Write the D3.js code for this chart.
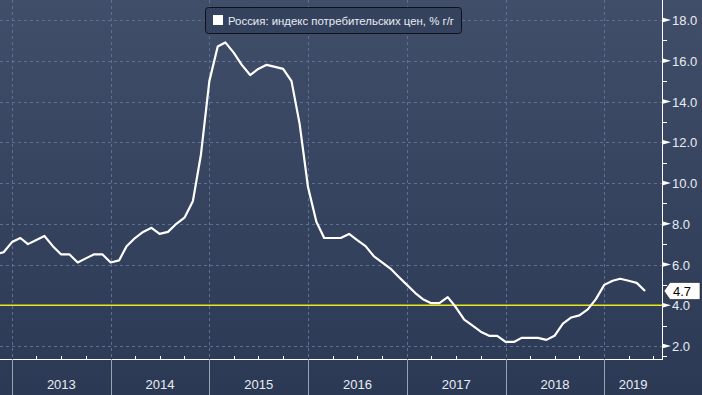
<!DOCTYPE html>
<html><head><meta charset="utf-8">
<script src="https://cdn.jsdelivr.net/npm/d3@7"></script>
<style>html,body{margin:0;padding:0;background:#2c3a56;overflow:hidden}svg{display:block}</style>
</head><body>
<svg id="c" width="702" height="395"></svg>
<script>
// ---- data ----
const startMonth = "2012-11";
const cpi = [
  6.5, 6.6,
  7.1, 7.3, 7.0, 7.2, 7.4, 6.9, 6.5, 6.5, 6.1, 6.3, 6.5, 6.5,
  6.1, 6.2, 6.9, 7.3, 7.6, 7.8, 7.5, 7.6, 8.0, 8.3, 9.1, 11.4,
  15.0, 16.7, 16.9, 16.4, 15.8, 15.3, 15.6, 15.8, 15.7, 15.6, 15.0, 12.9,
  9.8, 8.1, 7.3, 7.3, 7.3, 7.5, 7.2, 6.9, 6.4, 6.1, 5.8, 5.4,
  5.0, 4.6, 4.3, 4.1, 4.1, 4.4, 3.9, 3.3, 3.0, 2.7, 2.5, 2.5,
  2.2, 2.2, 2.4, 2.4, 2.4, 2.3, 2.5, 3.1, 3.4, 3.5, 3.8, 4.3,
  5.0, 5.2, 5.3, 5.2, 5.1, 4.7
];
const years = [2013, 2014, 2015, 2016, 2017, 2018, 2019];
const yTicks = [2, 4, 6, 8, 10, 12, 14, 16, 18];
const yMinor = [1.5, 3, 5, 7, 9, 11, 13, 15, 17];
const targetValue = 4.0;
const legendLabel = "Россия: индекс потребительских цен, % г/г";
const lastLabel = "4.7";

// ---- layout ----
const W = 702, H = 395;
const plotR = 662, plotB = 359;
const svg = d3.select("#c");
const parseM = d3.timeParse("%Y-%m");
const t0 = parseM(startMonth);
const data = cpi.map((v, i) => ({ date: d3.timeMonth.offset(t0, i), value: v }));

const x = d3.scaleTime()
  .domain([new Date(2012, 10, 17, 14), new Date(2019, 7, 2, 14)])
  .range([0, plotR]);
const y = d3.scaleLinear().domain([1.362, 18.982]).range([plotB, 0]);

// background gradient
const defs = svg.append("defs");
const g = defs.append("linearGradient").attr("id", "bg").attr("x1", 0).attr("y1", 0).attr("x2", 0).attr("y2", 1);
g.append("stop").attr("offset", "0%").attr("stop-color", "#414e6a");
g.append("stop").attr("offset", "100%").attr("stop-color", "#2b3955");
svg.append("rect").attr("width", W).attr("height", H).attr("fill", "url(#bg)");
defs.append("clipPath").attr("id", "clip").append("rect").attr("x", 0).attr("y", 0).attr("width", plotR).attr("height", plotB);

// grid
const gridCol = "#5b7190";
svg.append("g").selectAll("line").data(yTicks).join("line")
  .attr("x1", 0).attr("x2", plotR)
  .attr("y1", d => Math.round(y(d)) + 0.5).attr("y2", d => Math.round(y(d)) + 0.5)
  .attr("stroke", gridCol).attr("stroke-width", 1).attr("stroke-dasharray", "3,3");
svg.append("g").selectAll("line").data(years).join("line")
  .attr("x1", d => Math.round(x(new Date(d, 0, 1))) + 0.5).attr("x2", d => Math.round(x(new Date(d, 0, 1))) + 0.5)
  .attr("y1", 0).attr("y2", plotB)
  .attr("stroke", gridCol).attr("stroke-width", 1).attr("stroke-dasharray", "3,3");

// target line
svg.append("line").attr("x1", 0).attr("x2", plotR)
  .attr("y1", y(targetValue)).attr("y2", y(targetValue))
  .attr("stroke", "#e8e81a").attr("stroke-width", 1.6);

// series line
const line = d3.line().x(d => x(d.date)).y(d => y(d.value));
svg.append("path").datum(data).attr("clip-path", "url(#clip)")
  .attr("d", line).attr("fill", "none").attr("stroke", "#ffffff")
  .attr("stroke-width", 2.2).attr("stroke-linejoin", "round");

// axes lines
svg.append("line").attr("x1", 0).attr("x2", plotR + 0.5).attr("y1", plotB + 0.5).attr("y2", plotB + 0.5).attr("stroke", "#fff").attr("stroke-width", 1);
svg.append("line").attr("x1", plotR + 0.5).attr("x2", plotR + 0.5).attr("y1", 0).attr("y2", plotB + 1).attr("stroke", "#fff").attr("stroke-width", 1);

// y ticks: triangles for major, short lines for minor
svg.append("g").selectAll("path").data(yTicks).join("path")
  .attr("d", d => { const yy = y(d); return `M${plotR},${yy - 2.5}L${plotR + 9},${yy}L${plotR},${yy + 2.5}Z`; })
  .attr("fill", "#fff");
svg.append("g").selectAll("line").data(yMinor.filter(v => y(v) > 0 && y(v) < plotB)).join("line")
  .attr("x1", plotR).attr("x2", plotR + 5)
  .attr("y1", d => Math.round(y(d)) + 0.5).attr("y2", d => Math.round(y(d)) + 0.5)
  .attr("stroke", "#fff");
svg.append("g").selectAll("text").data(yTicks).join("text")
  .attr("x", plotR + 10).attr("y", d => y(d) + 5)
  .attr("fill", "#e8ecf2").attr("font-family", "Liberation Sans, Arial, sans-serif").attr("font-size", 13)
  .text(d => d3.format(".1f")(d));

// x axis: quarter ticks, year separators, labels
const quarters = d3.timeMonth.every(3).range(new Date(2012, 11, 1), new Date(2019, 7, 1)).filter(d => d.getMonth() !== 0);
svg.append("g").selectAll("line").data(quarters).join("line")
  .attr("x1", d => Math.round(x(d)) + 0.5).attr("x2", d => Math.round(x(d)) + 0.5)
  .attr("y1", plotB - 3).attr("y2", plotB)
  .attr("stroke", "#fff");
svg.append("g").selectAll("line").data(years).join("line")
  .attr("x1", d => Math.round(x(new Date(d, 0, 1))) + 0.5).attr("x2", d => Math.round(x(new Date(d, 0, 1))) + 0.5)
  .attr("y1", plotB).attr("y2", H)
  .attr("stroke", "#9aa3b3").attr("stroke-width", 1);
svg.append("g").selectAll("text").data(years).join("text")
  .attr("x", d => { const a = x(new Date(d, 0, 1)), b = Math.min(x(new Date(d + 1, 0, 1)), plotR); return (a + b) / 2; })
  .attr("y", 389).attr("text-anchor", "middle")
  .attr("fill", "#e8ecf2").attr("font-family", "Liberation Sans, Arial, sans-serif").attr("font-size", 13)
  .text(d => d);

// last value label
const last = data[data.length - 1];
const ly = y(last.value);
svg.append("path")
  .attr("d", `M${plotR + 2},${ly}L${plotR + 8},${ly - 8.5}L${W - 2},${ly - 8.5}L${W - 2},${ly + 8.5}L${plotR + 8},${ly + 8.5}Z`)
  .attr("fill", "#fff").attr("stroke", "#222").attr("stroke-width", 0.6);
svg.append("text").attr("x", plotR + 11).attr("y", ly + 5)
  .attr("fill", "#000").attr("font-family", "Liberation Sans, Arial, sans-serif").attr("font-size", 13)
  .text(lastLabel);

// legend
const lg = svg.append("g");
lg.append("rect").attr("x", 205.5).attr("y", 7.5).attr("width", 256).attr("height", 26).attr("rx", 3)
  .attr("fill", "#35425e").attr("stroke", "#0d111a").attr("stroke-width", 1);
lg.append("rect").attr("x", 213).attr("y", 15).attr("width", 10).attr("height", 10).attr("fill", "#fff");
lg.append("text").attr("x", 228).attr("y", 24.5)
  .attr("fill", "#e8ecf2").attr("font-family", "Liberation Sans, Arial, sans-serif").attr("font-size", 11.5)
  .attr("textLength", 226).attr("lengthAdjust", "spacingAndGlyphs")
  .text(legendLabel);
</script>
</body></html>
